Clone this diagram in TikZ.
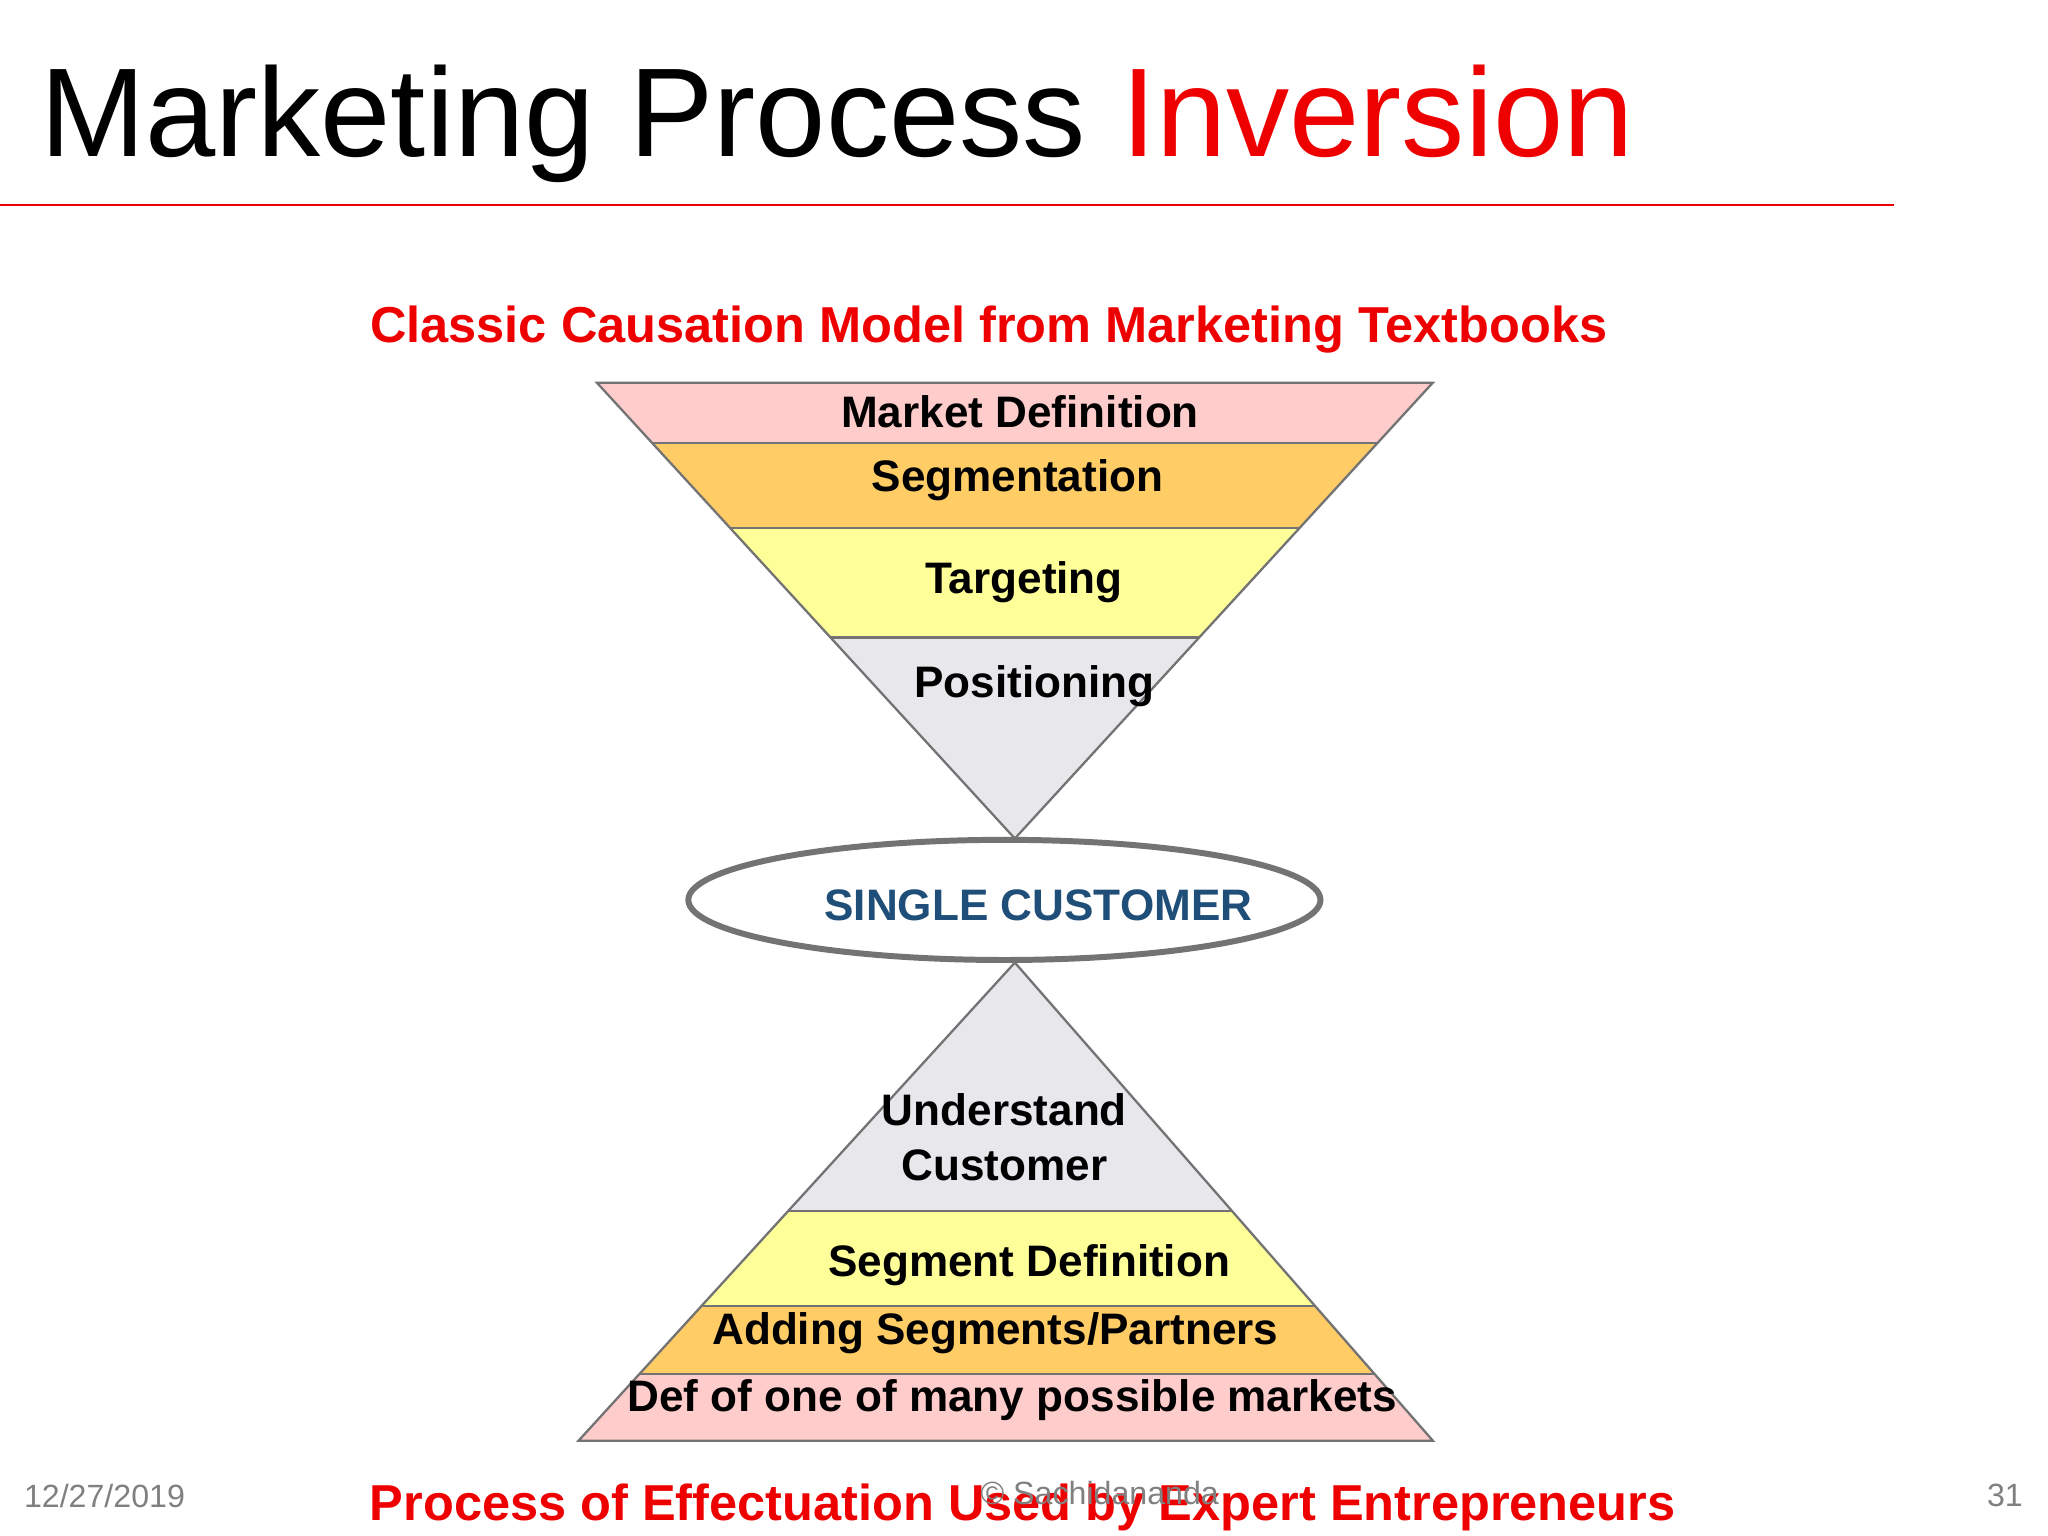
\documentclass[tikz,border=0pt]{standalone}
\usepackage{fontspec}
\setmainfont{Liberation Sans}
\begin{document}
\begin{tikzpicture}[x=0.01cm,y=-0.01cm,
  band/.style={font=\bfseries\fontsize{9.6}{11}\selectfont},
  edge/.style={draw=gray!90!black,line width=0.5pt}]
\definecolor{pk}{HTML}{FFCCCC}\definecolor{og}{HTML}{FFCC66}
\definecolor{yl}{HTML}{FFFF99}\definecolor{gy}{HTML}{E8E8EC}
\definecolor{rd}{HTML}{EE0000}\definecolor{bl}{HTML}{1F4E79}
\useasboundingbox (0,0) rectangle (1568,1176);
\node[anchor=base west,font=\fontsize{27.5}{30}\selectfont,inner sep=0] (title) at (30,120) {Marketing Process \textcolor{rd}{Inversion}};
\draw[rd,line width=0.6pt] (0,157) -- (1450,157);
\node[rd,font=\bfseries\fontsize{11}{13}\selectfont] (sub) at (757,252) {Classic Causation Model from Marketing Textbooks};
% top triangle
\begin{scope}
\clip (457,293) -- (1097,293) -- (777,642) -- cycle;
\fill[pk] (400,293) rectangle (1150,339);
\fill[og] (400,339) rectangle (1150,404);
\fill[yl] (400,404) rectangle (1150,488);
\fill[gy] (400,488) rectangle (1150,650);
\draw[edge] (400,339) -- (1150,339) (400,404) -- (1150,404) (400,488) -- (1150,488);
\end{scope}
\draw[edge] (457,293) -- (1097,293) -- (777,642) -- cycle;
\node[band] (md) at (781,315) {Market Definition};
\node[band] (sg) at (779,368) {Segmentation};
\node[band] (tg) at (784,446) {Targeting};
\node[band] (ps) at (792,525) {Positioning};
% ellipse
\draw[gray!90!black,line width=1.3pt,fill=white] (769,689) ellipse [x radius=242,y radius=46];
\node[band,bl] (sc) at (795,693) {SINGLE CUSTOMER};
% bottom triangle
\begin{scope}
\clip (777,737) -- (1097,1103) -- (443,1103) -- cycle;
\fill[gy] (400,730) rectangle (1150,927);
\fill[yl] (400,927) rectangle (1150,1000);
\fill[og] (400,1000) rectangle (1150,1052);
\fill[pk] (400,1052) rectangle (1150,1103);
\draw[edge] (400,927) -- (1150,927) (400,1000) -- (1150,1000) (400,1052) -- (1150,1052);
\end{scope}
\draw[edge] (777,737) -- (1097,1103) -- (443,1103) -- cycle;
\node[band,align=center] (uc) at (769,871) {Understand\\[1pt]Customer};
\node[band] (sd) at (788,969) {Segment Definition};
\node[band] (as) at (762,1021) {Adding Segments/Partners};
\node[band] (dm) at (775,1072) {Def of one of many possible markets};
% footer
\node[gray,font=\fontsize{7}{8}\selectfont] (date) at (80,1145) {12/27/2019};
\node[gray,font=\fontsize{7}{8}\selectfont] (num) at (1535,1145) {31};
\node[rd,font=\bfseries\fontsize{11}{13}\selectfont] (eff) at (783,1154) {Process of Effectuation Used by Expert Entrepreneurs};
\node[gray,font=\fontsize{7}{8}\selectfont] (cp) at (842,1143) {\textcopyright{} Sachidananda};
\end{tikzpicture}
\end{document}
